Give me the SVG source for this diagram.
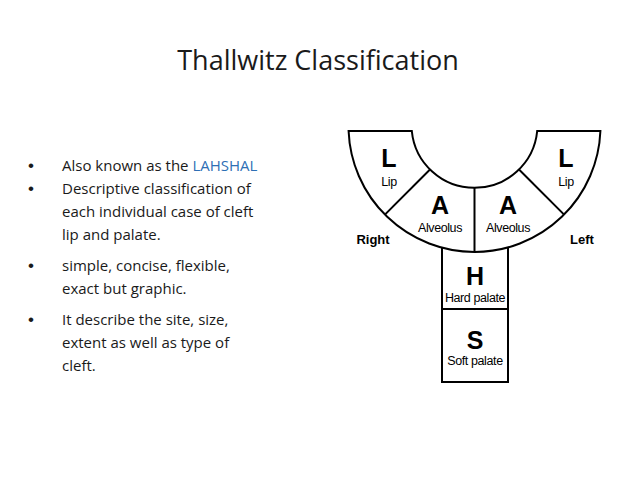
<svg xmlns="http://www.w3.org/2000/svg" width="638" height="479" viewBox="0 0 638 479">
<style>
.t{font-family:"Open Sans","Liberation Sans",sans-serif;fill:#1a1a1a}
.b{font-size:15px}
.d{font-family:"Liberation Sans",Arial,sans-serif;font-size:17px;fill:#1a1a1a}
.s{fill:none;stroke:#000;stroke-width:2}
.big{font-family:"Liberation Sans",Arial,sans-serif;font-weight:bold;font-size:25px;text-anchor:middle}
.sm{font-family:"Liberation Sans",Arial,sans-serif;font-size:12.5px;text-anchor:middle;letter-spacing:-0.4px}
.lb{font-family:"Liberation Sans",Arial,sans-serif;font-weight:bold;font-size:13px;text-anchor:middle}
</style>
<rect width="638" height="479" fill="#fff"/>
<text class="t" x="318" y="70" font-size="27" text-anchor="middle">Thallwitz Classification</text>
<g id="bullets" class="t b">
<text class="d" x="28" y="171">•</text><text x="62" y="171">Also known as the <tspan fill="#2e6fb5">LAHSHAL</tspan></text>
<text class="d" x="28" y="194">•</text><text x="62" y="194">Descriptive classification of</text>
<text x="62" y="217">each individual case of cleft</text>
<text x="62" y="240">lip and palate.</text>
<text class="d" x="28" y="271">•</text><text x="62" y="271">simple, concise, flexible,</text>
<text x="62" y="294">exact but graphic.</text>
<text class="d" x="28" y="325">•</text><text x="62" y="325">It describe the site, size,</text>
<text x="62" y="348">extent as well as type of</text>
<text x="62" y="371">cleft.</text>
</g>
<g id="arch">
<path class="s" d="M348.6,131 A126,126 0 0 0 600.4,131 L537.2,131 A63,63 0 0 1 411.8,131 Z"/>
<line class="s" x1="430" y1="169.5" x2="385.4" y2="214.1"/>
<line class="s" x1="519" y1="169.5" x2="563.6" y2="214.1"/>
<line class="s" x1="474.5" y1="188" x2="474.5" y2="251"/>
</g>
<g id="stem">
<path class="s" d="M442,247 V382 H508 V247"/>
<line class="s" x1="442" y1="309" x2="508" y2="309"/>
</g>
<g id="labels">
<text class="big" x="389" y="167">L</text><text class="sm" x="389" y="186">Lip</text>
<text class="big" x="440" y="214">A</text><text class="sm" x="440" y="232">Alveolus</text>
<text class="big" x="508" y="214">A</text><text class="sm" x="508" y="232">Alveolus</text>
<text class="big" x="566" y="167">L</text><text class="sm" x="566" y="186">Lip</text>
<text class="big" x="475" y="285">H</text><text class="sm" x="475" y="302">Hard palate</text>
<text class="big" x="475" y="349">S</text><text class="sm" x="475" y="365">Soft palate</text>
<text class="lb" x="373" y="244">Right</text>
<text class="lb" x="582" y="244">Left</text>
</g>
</svg>
